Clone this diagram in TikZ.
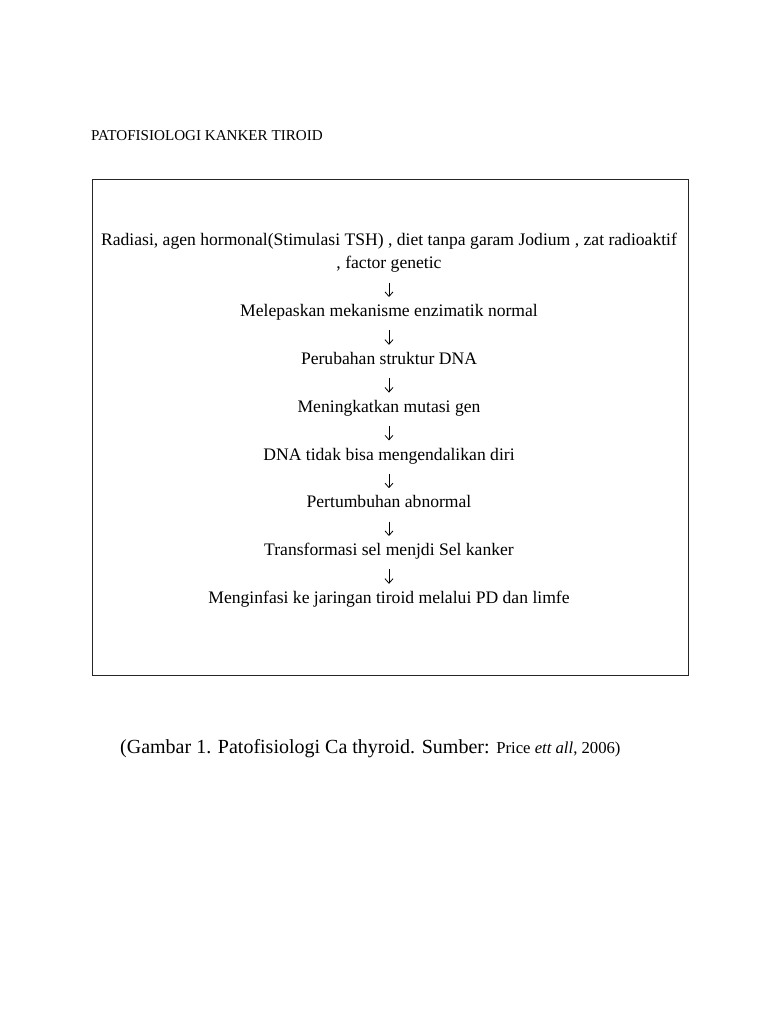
\documentclass[tikz,border=0pt]{standalone}
\usepackage{fontspec}
\setmainfont{Liberation Serif}
\usetikzlibrary{arrows.meta}
\tikzset{
  body/.style={font=\fontsize{17.6}{21}\selectfont, inner sep=0pt, text height=12pt, text depth=4pt, anchor=base},
  flowarrow/.style={-{Straight Barb[length=4.5pt,width=8pt]}, line width=0.8pt, shorten <=9.5pt, shorten >=7.5pt},
  frame/.style={draw=black!85, line width=1pt}
}
\begin{document}
\begin{tikzpicture}[x=1pt,y=-1pt]
\useasboundingbox[fill=white] (0,0) rectangle (768,1024);
\node[font=\fontsize{15.1}{18}\selectfont, inner sep=0pt, anchor=base west] (title) at (91,140.7) {PATOFISIOLOGI KANKER TIROID};
\draw[frame] (92,180) rectangle (688,675);
\node[body] (r1) at (389,245) {Radiasi, agen hormonal(Stimulasi TSH) , diet tanpa garam Jodium , zat radioaktif};
\node[body] (r2) at (389,268.9) {, factor genetic};
\node[body] (t1) at (389,316.7) {Melepaskan mekanisme enzimatik normal};
\node[body] (t2) at (389,364.5) {Perubahan struktur DNA};
\node[body] (t3) at (389,412.3) {Meningkatkan mutasi gen};
\node[body] (t4) at (389,460.1) {DNA tidak bisa mengendalikan diri};
\node[body] (t5) at (389,507.9) {Pertumbuhan abnormal};
\node[body] (t6) at (389,555.7) {Transformasi sel menjdi Sel kanker};
\node[body] (t7) at (389,603.5) {Menginfasi ke jaringan tiroid melalui PD dan limfe};
\draw[flowarrow] (r2.south) -- (t1.north);
\draw[flowarrow] (t1.south) -- (t2.north);
\draw[flowarrow] (t2.south) -- (t3.north);
\draw[flowarrow] (t3.south) -- (t4.north);
\draw[flowarrow] (t4.south) -- (t5.north);
\draw[flowarrow] (t5.south) -- (t6.north);
\draw[flowarrow] (t6.south) -- (t7.north);
\node[inner sep=0pt, anchor=base west] (caption) at (120,753) {\fontsize{20}{24}\selectfont (Gambar 1. Patofisiologi Ca thyroid. Sumber: {\fontsize{16.7}{20}\selectfont Price \textit{ett all}, 2006)}};
\end{tikzpicture}
\end{document}
